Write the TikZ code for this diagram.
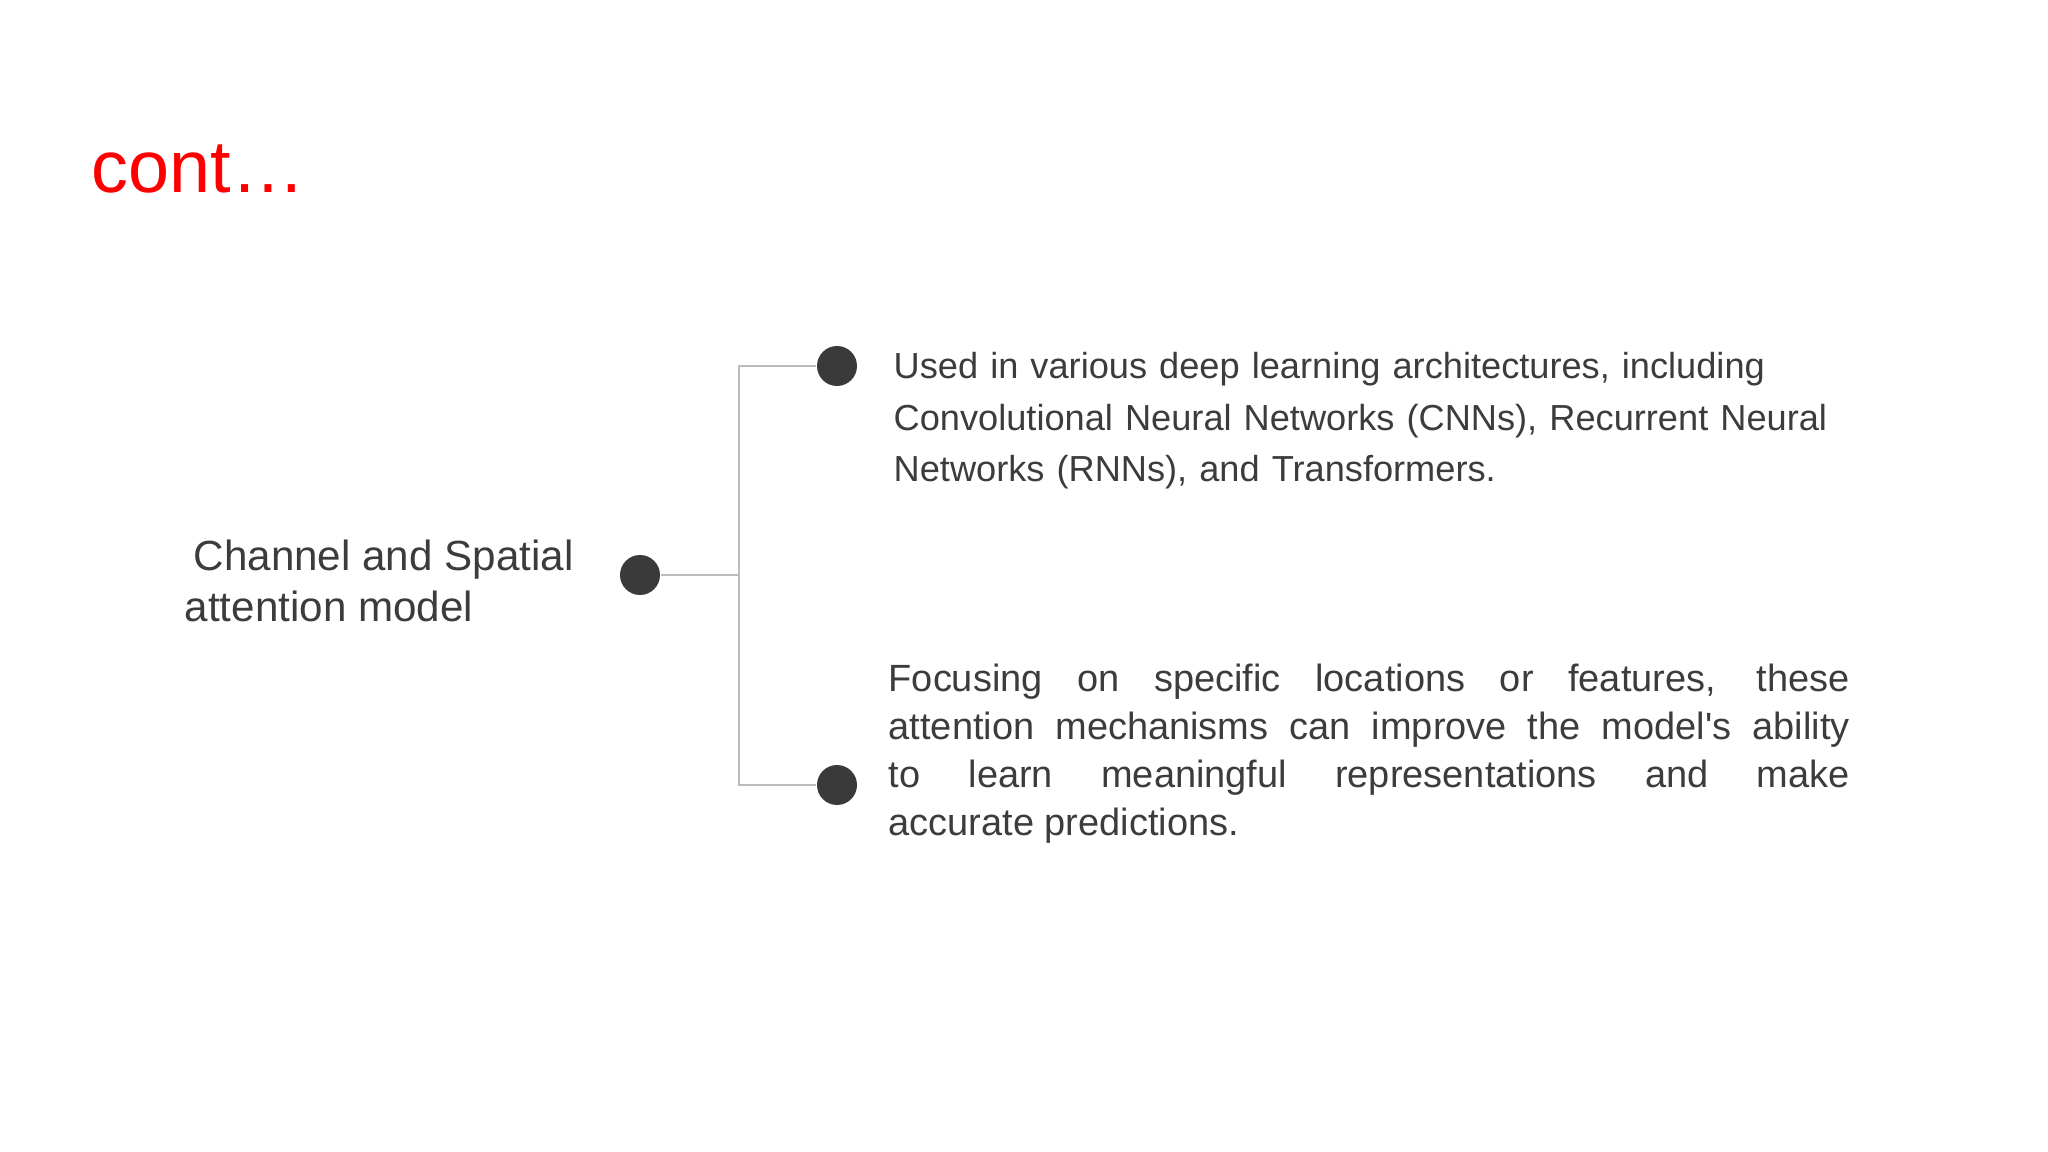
\documentclass[tikz,border=0pt]{standalone}
\usepackage{fontspec}
\setmainfont{Liberation Sans}
\newfontfamily\plainap[Ligatures=ResetAll]{Liberation Sans}
\definecolor{txt}{HTML}{3C3C3C}
\definecolor{dotc}{HTML}{3A3A3A}
\definecolor{linec}{HTML}{BBBBBB}
\begin{document}
\begin{tikzpicture}[x=1cm,y=1cm,
  dotn/.style={circle,fill=dotc,minimum size=0.4cm,inner sep=0pt},
  conn/.style={draw=linec,line width=0.6pt},
  para/.style={anchor=north west,inner sep=0pt,text=txt,align=justify}]
\useasboundingbox (0,0) rectangle (20.48,-11.52);
\node[anchor=base west,inner sep=0pt,text=red,font=\fontsize{21}{24}\selectfont] (title) at (0.91,-1.93) {cont…};
\node[anchor=base west,inner sep=0pt,text=txt,font=\fontsize{12}{15}\selectfont] (l1) at (1.93,-5.71) {Channel and Spatial};
\node[anchor=base west,inner sep=0pt,text=txt,font=\fontsize{12}{15}\selectfont] (l2) at (1.84,-6.22) {attention model};
\node[dotn] (d0) at (6.40,-5.75) {};
\node[dotn] (d1) at (8.37,-3.66) {};
\node[dotn] (d2) at (8.37,-7.85) {};
\coordinate (j) at (7.39,-5.75);
\coordinate (jt) at (7.39,-3.66);
\coordinate (jb) at (7.39,-7.85);
\draw[conn] (d0) -- (j);
\draw[conn] (d1) -- (jt) -- (jb) -- (d2);
\node[para,text width=11cm,align=left,font=\fontsize{10.3}{14.6}\selectfont] (p1) at (8.93,-3.52) {Used in various deep learning architectures, including\\Convolutional Neural Networks (CNNs), Recurrent Neural\\Networks (RNNs), and Transformers.};
\node[para,text width=9.61cm,font=\fontsize{10.8}{13.7}\selectfont] (p2) at (8.88,-6.63) {Focusing on specific locations or features, these\linebreak attention mechanisms can improve the model{\plainap '}s ability\linebreak to learn meaningful representations and make\linebreak accurate predictions.};
\end{tikzpicture}
\end{document}
